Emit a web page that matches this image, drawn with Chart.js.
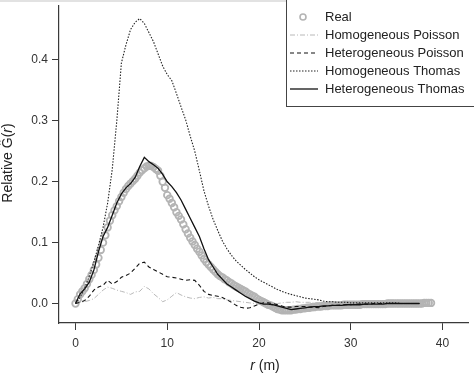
<!DOCTYPE html>
<html>
<head>
<meta charset="utf-8">
<script src="https://cdn.jsdelivr.net/npm/chart.js@4/dist/chart.umd.min.js"></script>
<style>
  html, body { margin: 0; padding: 0; background: #fff; }
  canvas { display: block; }
</style>
</head>
<body>
<canvas id="gChart" width="474" height="375"></canvas>
<script>
// distance r (m), 0.5 m steps, for the model curves
var radius = [0, 0.5, 1, 1.5, 2, 2.5, 3, 3.5, 4, 4.5,
              5, 5.5, 6, 6.5, 7, 7.5, 8, 8.5, 9, 9.5,
              10, 10.5, 11, 11.5, 12, 12.5, 13, 13.5, 14, 14.5,
              15, 15.5, 16, 16.5, 17, 17.5, 18, 18.5, 19, 19.5,
              20, 20.5, 21, 21.5, 22, 22.5, 23, 23.5, 24, 24.5,
              25, 25.5, 26, 26.5, 27, 27.5, 28, 28.5, 29, 29.5,
              30, 30.5, 31, 31.5, 32, 32.5, 33, 33.5, 34, 34.5,
              35, 35.5, 36, 36.5, 37, 37.5, 38, 38.5];

// the observed curve is sampled finer (0.25 m)
var realRadius = [0, 0.25, 0.5, 0.75, 1, 1.25, 1.5, 1.75, 2, 2.25, 2.5, 2.75, 3, 3.25, 3.5, 3.75, 4, 4.25, 4.5, 4.75,
                  5, 5.25, 5.5, 5.75, 6, 6.25, 6.5, 6.75, 7, 7.25, 7.5, 7.75, 8, 8.25, 8.5, 8.75, 9, 9.25, 9.5, 9.75,
                  10, 10.25, 10.5, 10.75, 11, 11.25, 11.5, 11.75, 12, 12.25, 12.5, 12.75, 13, 13.25, 13.5, 13.75, 14, 14.25, 14.5, 14.75,
                  15, 15.25, 15.5, 15.75, 16, 16.25, 16.5, 16.75, 17, 17.25, 17.5, 17.75, 18, 18.25, 18.5, 18.75, 19, 19.25, 19.5, 19.75,
                  20, 20.25, 20.5, 20.75, 21, 21.25, 21.5, 21.75, 22, 22.25, 22.5, 22.75, 23, 23.25, 23.5, 23.75, 24, 24.25, 24.5, 24.75,
                  25, 25.25, 25.5, 25.75, 26, 26.25, 26.5, 26.75, 27, 27.25, 27.5, 27.75, 28, 28.25, 28.5, 28.75, 29, 29.25, 29.5, 29.75,
                  30, 30.25, 30.5, 30.75, 31, 31.25, 31.5, 31.75, 32, 32.25, 32.5, 32.75, 33, 33.25, 33.5, 33.75, 34, 34.25, 34.5, 34.75,
                  35, 35.25, 35.5, 35.75, 36, 36.25, 36.5, 36.75, 37, 37.25, 37.5, 37.75, 38, 38.25, 38.5, 38.75];

var real = [0, 0.007, 0.015, 0.02, 0.025, 0.032, 0.04, 0.047, 0.055, 0.064, 0.075, 0.088, 0.1, 0.112, 0.125, 0.136, 0.145, 0.153, 0.16, 0.168,
            0.175, 0.182, 0.188, 0.193, 0.197, 0.201, 0.205, 0.21, 0.215, 0.219, 0.222, 0.225, 0.226, 0.226, 0.224, 0.221, 0.218, 0.21, 0.2, 0.19,
            0.178, 0.172, 0.165, 0.158, 0.15, 0.144, 0.138, 0.13, 0.122, 0.115, 0.108, 0.102, 0.096, 0.09, 0.085, 0.079, 0.073, 0.068, 0.064, 0.06,
            0.056, 0.052, 0.048, 0.045, 0.043, 0.04, 0.038, 0.035, 0.033, 0.03, 0.028, 0.026, 0.024, 0.022, 0.02, 0.017, 0.015, 0.013, 0.011, 0.008,
            0.006, 0.004, 0.002, 0, -0.002, -0.003, -0.005, -0.007, -0.009, -0.01, -0.011, -0.011, -0.011, -0.011, -0.011, -0.01, -0.01, -0.009, -0.009, -0.008,
            -0.008, -0.007, -0.007, -0.006, -0.006, -0.005, -0.005, -0.005, -0.004, -0.004, -0.004, -0.003, -0.003, -0.003, -0.003, -0.003, -0.003, -0.002, -0.002, -0.002,
            -0.002, -0.002, -0.002, -0.002, -0.002, -0.001, -0.001, -0.001, -0.001, -0.001, -0.001, -0.001, -0.001, -0.001, -0.001, -0.001, 0, 0, 0, 0,
            0, 0, 0, 0, 0, 0, 0, 0, 0, 0, 0, 0, 0.001, 0.001, 0.001, 0.001];

var homPoisson = [0, 0.002, 0.003, 0.005, 0.008, 0.015, 0.022, 0.027, 0.025, 0.022,
                  0.02, 0.018, 0.015, 0.019, 0.02, 0.028, 0.024, 0.016, 0.01, 0.003,
                  0.006, 0.012, 0.018, 0.014, 0.011, 0.009, 0.008, 0.01, 0.011, 0.009,
                  0.01, 0.008, 0.008, 0.006, 0.005, 0.004, 0.003, 0.002, 0.001, 0,
                  -0.001, 0, 0.001, 0, 0, 0.001, 0.002, 0.002, 0.003, 0.002,
                  0.002, 0.002, 0.001, 0.001, 0.001, 0.001, 0.001, 0.001, 0.001, 0,
                  0, 0, 0, 0, 0, 0, 0, 0, 0, 0,
                  0, 0, 0, 0, 0, 0, null, null];

var hetPoisson = [0, 0.002, 0.005, 0.012, 0.022, 0.027, 0.03, 0.038, 0.032, 0.036,
                  0.043, 0.046, 0.05, 0.058, 0.066, 0.068, 0.06, 0.056, 0.052, 0.048,
                  0.044, 0.043, 0.042, 0.04, 0.038, 0.039, 0.038, 0.03, 0.02, 0.015,
                  0.013, 0.012, 0.01, 0.006, 0.002, -0.003, -0.006, -0.008, -0.007, -0.004,
                  -0.001, 0.001, 0.001, 0, -0.002, -0.004, -0.006, -0.006, -0.005, -0.005,
                  -0.005, -0.006, -0.006, -0.007, -0.005, -0.004, -0.003, -0.003, -0.002, -0.002,
                  -0.002, -0.001, -0.001, -0.001, -0.001, 0, 0, 0, 0, 0,
                  0, 0, 0, 0, 0, 0, null, null];

var homThomas = [0, 0.01, 0.025, 0.045, 0.068, 0.095, 0.125, 0.165, 0.22, 0.3,
                 0.395, 0.425, 0.45, 0.462, 0.468, 0.46, 0.445, 0.43, 0.41, 0.39,
                 0.376, 0.366, 0.345, 0.323, 0.302, 0.275, 0.25, 0.218, 0.185, 0.16,
                 0.138, 0.12, 0.103, 0.09, 0.079, 0.07, 0.063, 0.056, 0.05, 0.044,
                 0.039, 0.035, 0.031, 0.027, 0.023, 0.02, 0.017, 0.015, 0.013, 0.011,
                 0.009, 0.008, 0.007, 0.006, 0.004, 0.003, 0.003, 0.002, 0.002, 0.002,
                 0.001, 0.001, 0.001, 0.001, 0.001, 0.001, 0.001, 0.001, 0.001, 0.001,
                 0.001, 0, 0, 0, 0, 0, null, null];

var hetThomas = [0, 0.016, 0.024, 0.035, 0.055, 0.085, 0.11, 0.125, 0.145, 0.165,
                 0.18, 0.19, 0.197, 0.207, 0.225, 0.24, 0.233, 0.228, 0.222, 0.212,
                 0.2, 0.192, 0.182, 0.17, 0.155, 0.14, 0.125, 0.11, 0.09, 0.072,
                 0.06, 0.048, 0.04, 0.032, 0.027, 0.022, 0.017, 0.012, 0.008, 0.004,
                 0.001, -0.001, -0.001, -0.002, -0.004, -0.006, -0.008, -0.01, -0.009, -0.008,
                 -0.007, -0.006, -0.005, -0.005, -0.004, -0.004, -0.003, -0.003, -0.003, -0.002,
                 -0.002, -0.002, -0.002, -0.001, -0.001, -0.001, -0.001, -0.001, 0, 0,
                 0, 0, 0, 0, 0, 0, null, null];

var xTicks = [0, 10, 20, 30, 40];
var yTicks = [0, 0.1, 0.2, 0.3, 0.4];
var seriesNames = ['Real', 'Homogeneous Poisson', 'Heterogeneous Poisson',
                   'Homogeneous Thomas', 'Heterogeneous Thomas'];

function pairs(xs, values) {
  return xs.map(function (r, i) { return { x: r, y: values[i] }; });
}

var axisColor = '#3a3a3a';
var fontFamily = '"Liberation Sans", Arial, Helvetica, sans-serif';

// write a run of text pieces, each with its own font, centred on x,y
function drawParts(ctx, parts, x, y) {
  var total = 0;
  parts.forEach(function (p) { ctx.font = p[1]; total += ctx.measureText(p[0]).width; });
  var cx = x - total / 2;
  ctx.textAlign = 'left';
  ctx.textBaseline = 'middle';
  parts.forEach(function (p) {
    ctx.font = p[1];
    ctx.fillText(p[0], cx, y);
    cx += ctx.measureText(p[0]).width;
  });
}

var decorations = {
  id: 'decorations',
  afterDraw: function (chart) {
    var ctx = chart.ctx;
    ctx.save();
    // thin grey band at the very top
    ctx.fillStyle = '#e2e2e2';
    ctx.fillRect(0, 0, 474, 2);

    ctx.fillStyle = '#222';
    var plain = '14px ' + fontFamily;
    var ital = 'italic 14px ' + fontFamily;
    drawParts(ctx, [['r', ital], [' (m)', plain]], 265, 366);

    ctx.save();
    ctx.translate(8, 163);
    ctx.rotate(-Math.PI / 2);
    drawParts(ctx, [['Relative Ĝ(', plain], ['r', ital], [')', plain]], 0, 0);
    ctx.restore();

    // legend
    ctx.fillStyle = '#fff';
    ctx.fillRect(286, 0, 190, 107);
    ctx.strokeStyle = '#444';
    ctx.lineWidth = 1;
    ctx.strokeRect(286.5, -1, 190, 107.5);

    var styles = chart.data.datasets;
    seriesNames.forEach(function (name, i) {
      var y = 17 + i * 18;
      var ds = styles[i];
      if (i === 0) {
        ctx.beginPath();
        ctx.arc(303, y, 3, 0, Math.PI * 2);
        ctx.strokeStyle = ds.pointBorderColor;
        ctx.lineWidth = 1.6;
        ctx.stroke();
      } else {
        ctx.beginPath();
        ctx.setLineDash(ds.borderDash || []);
        ctx.strokeStyle = ds.borderColor;
        ctx.lineWidth = ds.borderWidth;
        ctx.moveTo(290, y);
        ctx.lineTo(318, y);
        ctx.stroke();
        ctx.setLineDash([]);
      }
      ctx.fillStyle = '#222';
      ctx.font = '13px ' + fontFamily;
      ctx.textAlign = 'left';
      ctx.textBaseline = 'middle';
      ctx.fillText(name, 325, y);
    });
    ctx.restore();
  }
};

var config = {
  type: 'line',
  data: {
    datasets: [
      {
        label: seriesNames[0],
        data: pairs(realRadius, real),
        showLine: false,
        pointRadius: 3.3,
        pointBorderWidth: 1.8,
        pointBorderColor: '#b4b4b4',
        pointBackgroundColor: 'rgba(0,0,0,0)',
        order: 5
      },
      {
        label: seriesNames[1],
        data: pairs(radius, homPoisson),
        borderColor: '#b8b8b8',
        borderWidth: 1,
        borderDash: [5, 2, 1, 2],
        pointRadius: 0,
        order: 4
      },
      {
        label: seriesNames[2],
        data: pairs(radius, hetPoisson),
        borderColor: '#111',
        borderWidth: 1.1,
        borderDash: [4, 3],
        pointRadius: 0,
        order: 3
      },
      {
        label: seriesNames[3],
        data: pairs(radius, homThomas),
        borderColor: '#222',
        borderWidth: 1.1,
        borderDash: [1.5, 1.5],
        pointRadius: 0,
        order: 2
      },
      {
        label: seriesNames[4],
        data: pairs(radius, hetThomas),
        borderColor: '#111',
        borderWidth: 1.3,
        pointRadius: 0,
        order: 1
      }
    ]
  },
  options: {
    responsive: false,
    animation: false,
    devicePixelRatio: 1,
    layout: { padding: 0 },
    plugins: {
      legend: { display: false },
      tooltip: { enabled: false }
    },
    scales: {
      x: {
        type: 'linear',
        min: -1.8,
        max: 42.8,
        afterBuildTicks: function (scale) {
          scale.ticks = xTicks.map(function (v) { return { value: v }; });
        },
        afterFit: function (scale) {
          scale.height = 52;
          scale.paddingLeft = 0;
          scale.paddingRight = 0;
        },
        grid: { drawOnChartArea: false, tickLength: 7, tickColor: axisColor, tickWidth: 1 },
        border: { display: true, color: axisColor, width: 1.2 },
        ticks: {
          color: '#333',
          padding: 6,
          maxRotation: 0,
          font: { family: fontFamily, size: 12 },
          callback: function (v) { return String(v); }
        }
      },
      y: {
        type: 'linear',
        min: -0.032,
        max: 0.489,
        afterBuildTicks: function (scale) {
          scale.ticks = yTicks.map(function (v) { return { value: v }; });
        },
        afterFit: function (scale) {
          scale.width = 59;
          scale.paddingTop = 0;
          scale.paddingBottom = 0;
        },
        grid: { drawOnChartArea: false, tickLength: 7, tickColor: axisColor, tickWidth: 1 },
        border: { display: true, color: axisColor, width: 1.2 },
        ticks: {
          color: '#333',
          padding: 4,
          font: { family: fontFamily, size: 12 },
          callback: function (v) { return Number(v).toFixed(1); }
        }
      }
    }
  },
  plugins: [decorations]
};

var myChart = new Chart(document.getElementById('gChart'), config);
</script>
</body>
</html>
